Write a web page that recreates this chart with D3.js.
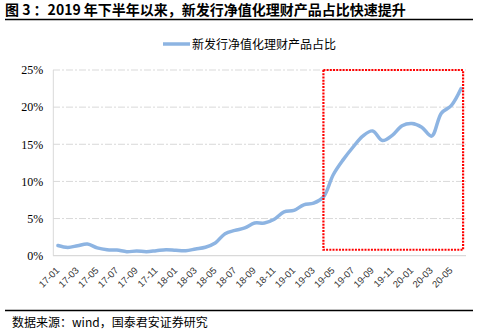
<!DOCTYPE html>
<html>
<head>
<meta charset="utf-8">
<script src="https://cdn.jsdelivr.net/npm/d3@7"></script>
<style>
  html, body { margin: 0; padding: 0; background: #fff; }
  svg { display: block; }
</style>
</head>
<body>
<div id="chart"></div>
<script>
// ---- data ----
const months = ["17-01","17-02","17-03","17-04","17-05","17-06","17-07","17-08","17-09","17-10","17-11","17-12",
                "18-01","18-02","18-03","18-04","18-05","18-06","18-07","18-08","18-09","18-10","18-11","18-12",
                "19-01","19-02","19-03","19-04","19-05","19-06","19-07","19-08","19-09","19-10","19-11","19-12",
                "20-01","20-02","20-03","20-04","20-05","20-06"];
const shareValues = [1.38,1.12,1.34,1.57,1.05,0.81,0.76,0.54,0.63,0.54,0.67,0.81,
                     0.72,0.67,0.90,1.14,1.71,2.96,3.40,3.74,4.40,4.40,4.90,5.90,
                     6.10,6.85,7.08,7.90,10.9,12.9,14.6,16.1,16.8,15.5,16.2,17.5,
                     17.8,17.3,16.1,19.2,20.2,22.5];
const xTickLabels = ["17-01","17-03","17-05","17-07","17-09","17-11","18-01","18-03","18-05","18-07","18-09","18-11",
                     "19-01","19-03","19-05","19-07","19-09","19-11","20-01","20-03","20-05"];
const yTicks = [0,5,10,15,20,25];
const seriesName = "新发行净值化理财产品占比";
const titleText = "图 3 ：2019 年下半年以来，新发行净值化理财产品占比快速提升";
const sourceText = "数据来源：wind，国泰君安证券研究";
// highlight box (category span and value span)
const boxFrom = "19-04", boxTo = "20-06";
const boxValues = [0.8, 25];

// ---- layout ----
const W = 479, H = 335;
const svg = d3.select("#chart").append("svg").attr("width", W).attr("height", H);

const x = d3.scalePoint().domain(months).range([53, 466]).padding(0.5);
const y = d3.scaleLinear().domain([0, 25]).range([255.7, 70]);

// title
svg.append("text").attr("x", 5).attr("y", 15)
  .attr("font-family", "'Noto Sans CJK SC', sans-serif").attr("font-weight", "bold")
  .attr("font-size", 14).attr("fill", "#000").attr("xml:space", "preserve")
  .style("white-space", "pre").text(titleText);
svg.append("line").attr("x1", 5).attr("x2", 473).attr("y1", 19.5).attr("y2", 19.5)
  .attr("stroke", "#000").attr("stroke-width", 1.4);

// legend
svg.append("line").attr("x1", 163).attr("x2", 190).attr("y1", 44).attr("y2", 44)
  .attr("stroke", "#8DB4E2").attr("stroke-width", 3.5);
svg.append("text").attr("x", 192).attr("y", 48.5)
  .attr("font-family", "'Noto Sans CJK SC', sans-serif").attr("font-size", 12)
  .attr("fill", "#000").text(seriesName);

// gridlines
const gridG = svg.append("g");
gridG.selectAll("line").data(yTicks.filter(d => d > 0)).join("line")
  .attr("x1", 53).attr("x2", 466)
  .attr("y1", d => y(d)).attr("y2", d => y(d))
  .attr("stroke", "#d9d9d9").attr("stroke-width", 1)
  .attr("stroke-dasharray", "7,2,2,2");

// axes lines
svg.append("line").attr("x1", 53.3).attr("x2", 53.3).attr("y1", y(25)).attr("y2", y(0))
  .attr("stroke", "#d9d9d9").attr("stroke-width", 1);
svg.append("line").attr("x1", 53).attr("x2", 466).attr("y1", y(0)).attr("y2", y(0))
  .attr("stroke", "#d9d9d9").attr("stroke-width", 1.2);

// y axis labels
const yAxis = d3.axisLeft(y).tickValues(yTicks).tickFormat(d => d + "%").tickSize(0).tickPadding(10);
const yg = svg.append("g").attr("transform", "translate(53.3,0)").call(yAxis);
yg.select(".domain").remove();
yg.selectAll("text").attr("font-family", "'Liberation Serif', serif").attr("font-size", 12).attr("fill", "#000");

// x labels
const xg = svg.append("g");
xg.selectAll("text").data(xTickLabels).join("text")
  .attr("transform", d => `translate(${x(d) + 2},271) rotate(-45)`)
  .attr("text-anchor", "end")
  .attr("font-family", "'Liberation Sans', sans-serif").attr("font-size", 9.5)
  .attr("fill", "#333").text(d => d);

// line
const line = d3.line().x((d, i) => x(months[i])).y(d => y(d)).curve(d3.curveCatmullRom.alpha(0.5));
svg.append("path").datum(shareValues).attr("d", line)
  .attr("fill", "none").attr("stroke", "#8DB4E2").attr("stroke-width", 3.5)
  .attr("stroke-linejoin", "round").attr("stroke-linecap", "round");

// highlight box
const bx0 = x(boxFrom), bx1 = x(boxTo) + 2;
svg.append("rect").attr("x", bx0).attr("y", y(boxValues[1]))
  .attr("width", bx1 - bx0).attr("height", y(boxValues[0]) - y(boxValues[1]))
  .attr("fill", "none").attr("stroke", "#FF0000").attr("stroke-width", 2.2)
  .attr("stroke-dasharray", "2,1.2");

// source
svg.append("line").attr("x1", 5).attr("x2", 473).attr("y1", 310.5).attr("y2", 310.5)
  .attr("stroke", "#000").attr("stroke-width", 1.4);
svg.append("text").attr("x", 12).attr("y", 327)
  .attr("font-family", "'Noto Sans CJK SC', sans-serif").attr("font-size", 12)
  .attr("fill", "#000").text(sourceText);
</script>
</body>
</html>
